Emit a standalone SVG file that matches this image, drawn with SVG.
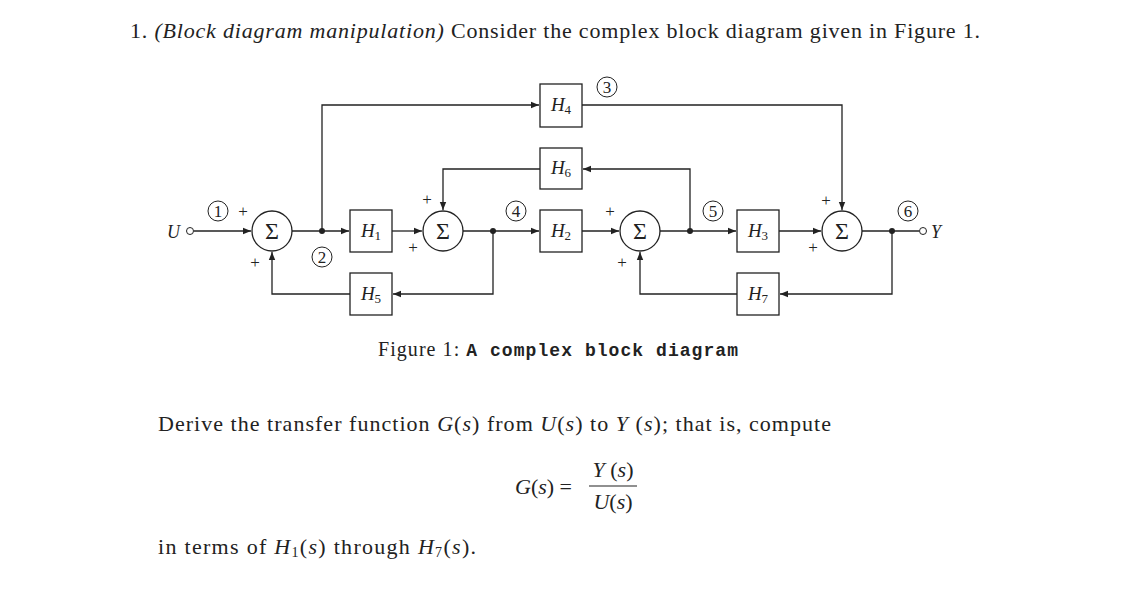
<svg xmlns="http://www.w3.org/2000/svg" width="1122" height="602" viewBox="0 0 1122 602">
<defs>
<marker id="a" viewBox="0 0 10 10" refX="10" refY="5" markerWidth="8" markerHeight="8" markerUnits="userSpaceOnUse" orient="auto"><path d="M0,1 L10,5 L0,9 Z" fill="#222"/></marker>
<style>
.l{fill:none;stroke:#222;stroke-width:1.3}
.b{fill:#fff;stroke:#222;stroke-width:1.3}
.t{font-family:"Liberation Serif",serif;fill:#222}
.i{font-style:italic}
.m{font-family:"Liberation Mono",monospace;fill:#222}
.c{fill:#fff;stroke:#222;stroke-width:1}
</style>
</defs>
<rect width="1122" height="602" fill="#fff"/>
<text class="t" x="130" y="38" font-size="22" textLength="850" lengthAdjust="spacing">1. <tspan class="i">(Block diagram manipulation)</tspan> Consider the complex block diagram given in Figure 1.</text>
<g id="connectors">
<path class="l" d="M194,231 H251" marker-end="url(#a)"/>
<path class="l" d="M292,231 H349" marker-end="url(#a)"/>
<path class="l" d="M392,231 H422" marker-end="url(#a)"/>
<path class="l" d="M463,231 H539" marker-end="url(#a)"/>
<path class="l" d="M582,231 H619" marker-end="url(#a)"/>
<path class="l" d="M660,231 H736" marker-end="url(#a)"/>
<path class="l" d="M779,231 H821" marker-end="url(#a)"/>
<path class="l" d="M862,231 H919"/>
<path class="l" d="M322,231 V105 H539" marker-end="url(#a)"/>
<path class="l" d="M582,105 H842 V210" marker-end="url(#a)"/>
<path class="l" d="M690,231 V169 H583" marker-end="url(#a)"/>
<path class="l" d="M540,169 H443 V210" marker-end="url(#a)"/>
<path class="l" d="M493,231 V294 H393" marker-end="url(#a)"/>
<path class="l" d="M350,294 H272 V252" marker-end="url(#a)"/>
<path class="l" d="M892,231 V294 H780" marker-end="url(#a)"/>
<path class="l" d="M737,294 H640 V252" marker-end="url(#a)"/>
<circle cx="322" cy="231" r="3" fill="#222"/>
<circle cx="493" cy="231" r="3" fill="#222"/>
<circle cx="690" cy="231" r="3" fill="#222"/>
<circle cx="892" cy="231" r="3" fill="#222"/>
<circle cx="190" cy="231" r="3.5" class="c"/>
<circle cx="923" cy="231" r="3.5" class="c"/>
</g>
<text class="t i" x="167" y="238" font-size="18">U</text>
<text class="t i" x="931" y="238" font-size="18">Y</text>
<g id="sum1"><circle class="b" cx="272" cy="231" r="20"/><text class="t" x="272" y="239" font-size="24" text-anchor="middle">Σ</text></g>
<g id="sum2"><circle class="b" cx="443" cy="231" r="20"/><text class="t" x="443" y="239" font-size="24" text-anchor="middle">Σ</text></g>
<g id="sum3"><circle class="b" cx="640" cy="231" r="20"/><text class="t" x="640" y="239" font-size="24" text-anchor="middle">Σ</text></g>
<g id="sum4"><circle class="b" cx="842" cy="231" r="20"/><text class="t" x="842" y="239" font-size="24" text-anchor="middle">Σ</text></g>
<g id="H1"><rect class="b" x="350" y="210" width="42" height="42"/><text class="t" x="371" y="237" font-size="19" text-anchor="middle"><tspan class="i">H</tspan><tspan font-size="13" dy="3">1</tspan></text></g>
<g id="H2"><rect class="b" x="540" y="210" width="42" height="42"/><text class="t" x="561" y="237" font-size="19" text-anchor="middle"><tspan class="i">H</tspan><tspan font-size="13" dy="3">2</tspan></text></g>
<g id="H3"><rect class="b" x="737" y="210" width="42" height="42"/><text class="t" x="758" y="237" font-size="19" text-anchor="middle"><tspan class="i">H</tspan><tspan font-size="13" dy="3">3</tspan></text></g>
<g id="H4"><rect class="b" x="540" y="84" width="42" height="43"/><text class="t" x="561" y="111" font-size="19" text-anchor="middle"><tspan class="i">H</tspan><tspan font-size="13" dy="3">4</tspan></text></g>
<g id="H5"><rect class="b" x="350" y="273" width="42" height="42"/><text class="t" x="371" y="300" font-size="19" text-anchor="middle"><tspan class="i">H</tspan><tspan font-size="13" dy="3">5</tspan></text></g>
<g id="H6"><rect class="b" x="540" y="148" width="42" height="41"/><text class="t" x="561" y="174" font-size="19" text-anchor="middle"><tspan class="i">H</tspan><tspan font-size="13" dy="3">6</tspan></text></g>
<g id="H7"><rect class="b" x="737" y="273" width="42" height="42"/><text class="t" x="758" y="300" font-size="19" text-anchor="middle"><tspan class="i">H</tspan><tspan font-size="13" dy="3">7</tspan></text></g>
<g id="labels" font-size="17">
<circle class="c" cx="218" cy="211" r="10"/><text class="t" x="218" y="217" text-anchor="middle">1</text>
<circle class="c" cx="322" cy="257" r="10"/><text class="t" x="322" y="263" text-anchor="middle">2</text>
<circle class="c" cx="607" cy="87" r="10"/><text class="t" x="607" y="93" text-anchor="middle">3</text>
<circle class="c" cx="516" cy="211" r="10"/><text class="t" x="516" y="217" text-anchor="middle">4</text>
<circle class="c" cx="713" cy="211" r="10"/><text class="t" x="713" y="217" text-anchor="middle">5</text>
<circle class="c" cx="908" cy="211" r="10"/><text class="t" x="908" y="217" text-anchor="middle">6</text>
<g class="t" text-anchor="middle">
<text x="243" y="217">+</text><text x="255" y="268">+</text>
<text x="427" y="205">+</text><text x="413" y="253">+</text>
<text x="610" y="217">+</text><text x="622" y="268">+</text>
<text x="826" y="206">+</text><text x="813" y="253">+</text>
</g>
</g>
<text x="378" y="356" font-size="20" textLength="360" lengthAdjust="spacing"><tspan class="t">Figure 1: </tspan><tspan class="m" font-weight="bold" font-size="18">A complex block diagram</tspan></text>
<text class="t" x="158" y="431" font-size="22" textLength="673" lengthAdjust="spacing">Derive the transfer function <tspan class="i">G</tspan>(<tspan class="i">s</tspan>) from <tspan class="i">U</tspan>(<tspan class="i">s</tspan>) to <tspan class="i">Y</tspan> (<tspan class="i">s</tspan>); that is, compute</text>
<text class="t" x="515" y="494" font-size="22"><tspan class="i">G</tspan>(<tspan class="i">s</tspan>) =</text>
<text class="t" x="613" y="477" font-size="22" text-anchor="middle"><tspan class="i">Y</tspan> (<tspan class="i">s</tspan>)</text>
<line x1="589" y1="486" x2="637" y2="486" stroke="#222" stroke-width="1.2"/>
<text class="t" x="613" y="509" font-size="22" text-anchor="middle"><tspan class="i">U</tspan>(<tspan class="i">s</tspan>)</text>
<text class="t" x="158" y="554" font-size="22" textLength="318" lengthAdjust="spacing">in terms of <tspan class="i">H</tspan><tspan font-size="14" dy="3">1</tspan><tspan dy="-3">(</tspan><tspan class="i">s</tspan>) through <tspan class="i">H</tspan><tspan font-size="14" dy="3">7</tspan><tspan dy="-3">(</tspan><tspan class="i">s</tspan>).</text>
</svg>
